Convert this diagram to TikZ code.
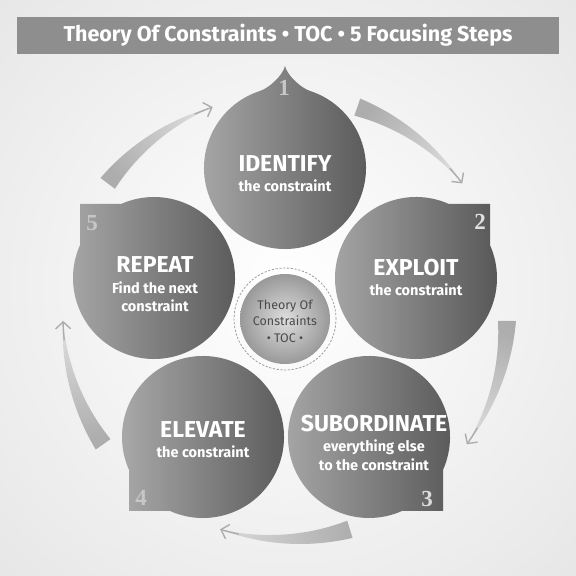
\documentclass[tikz,border=0pt]{standalone}
\usepackage{fontspec}
\setmainfont{Fira Sans}
\newfontfamily\numfont{Liberation Serif}
\usetikzlibrary{positioning,calc,arrows.meta}

\definecolor{barfill}{HTML}{8E8E8E}
\definecolor{steplight}{HTML}{A9A9A9}
\definecolor{stepdark}{HTML}{575757}
\definecolor{bandlight}{HTML}{DADADA}
\definecolor{banddark}{HTML}{ADADAD}
\definecolor{tocink}{HTML}{4A4A4A}

\newcommand\cornerdrop[2]{%
  \shade[stepfill] (#1) ++(#2+21:81) arc[start angle=#2+21, end angle=#2+339, radius=81]
    -- ($(#1)+(#2:104.65)$) -- cycle;}
\newcommand\flowband[2]{%
  \shade[bandfill, shading angle=#2, shift={(hub)}]
    plot[domain=0:1, samples=30] ({#1-34*\x}:{222+9*(1-\x)})
    -- plot[domain=1:0, samples=30] ({#1-34*\x}:{222-9*(1-\x)}) -- cycle;
  \draw[bandtip, shift={(hub)}] ({#1-29}:222) arc[start angle=#1-29, end angle=#1-34, radius=222];}

\begin{document}
\begin{tikzpicture}[x=1pt, y=1pt,
  stepfill/.style={left color=steplight, right color=stepdark},
  bandfill/.style={top color=banddark, bottom color=bandlight},
  bandtip/.style={draw=banddark, line width=1.4pt, -{Straight Barb[length=7pt, width=15pt]}},
  steptitle/.style={text=white, inner sep=0pt, font=\fontsize{23}{25}\selectfont\bfseries},
  stepsub/.style={text=white, inner sep=0pt, align=center, font=\fontsize{14.5}{18.5}\selectfont\bfseries},
  stepnum/.style={inner sep=0pt, font=\fontsize{23}{24}\selectfont\numfont\bfseries},
  toctext/.style={text=tocink, align=center, font=\fontsize{12.5}{16.5}\selectfont}]

\useasboundingbox (0,0) rectangle (576,576);
\begin{scope}
  \clip (0,0) rectangle (576,576);
  \shade[inner color=white, outer color=black!13] (288,290) circle (560);
\end{scope}

\node[fill=barfill, minimum width=542pt, minimum height=37pt, text=white,
      font=\fontsize{21.5}{23}\selectfont\bfseries] (title) at (288,540.5)
  {Theory Of Constraints • TOC • 5 Focusing Steps};

\coordinate (hub) at (285,259);
\coordinate (toc) at (285,257);
\coordinate (identify) at (285,408);
\coordinate (exploit) at (416,298);
\coordinate (subordinate) at (369,139);
\coordinate (elevate) at (203,139);
\coordinate (repeat) at (154,298);

\flowband{71}{54}
\flowband{-1}{-18}
\flowband{-73}{-90}
\flowband{-145}{-162}
\flowband{143}{126}

\shade[stepfill] (identify) ++(0,102) .. controls +(-2,-9) and +(9.5,3.1) .. ++(-25.03,-24.96)
  arc[start angle=108, end angle=432, radius=81]
  .. controls +(-9.5,3.1) and +(2,-9) .. ++(-25.03,24.96) -- cycle;
\cornerdrop{exploit}{45}
\cornerdrop{subordinate}{315}
\cornerdrop{elevate}{225}
\cornerdrop{repeat}{135}

\draw[black!38, line width=0.8pt, dash pattern=on 2.2pt off 1.6pt] (toc) circle (51);
\shade[inner color=black!13, outer color=black!40] (toc) circle (45);
\node[toctext] (toc label) at ($(toc)+(0,-2)$) {Theory Of\\Constraints\\• TOC •};

\node[steptitle] (identify title) at ($(identify)+(0,4)$) {IDENTIFY};
\node[stepsub, below=7pt of identify title] (identify sub) {the constraint};
\node[steptitle] (exploit title) at ($(exploit)+(0,10)$) {EXPLOIT};
\node[stepsub, below=7pt of exploit title] (exploit sub) {the constraint};
\node[steptitle] (subordinate title) at ($(subordinate)+(5,13)$) {SUBORDINATE};
\node[stepsub, below=7pt of subordinate title] (subordinate sub) {everything else\\to the constraint};
\node[steptitle] (elevate title) at ($(elevate)+(0,7)$) {ELEVATE};
\node[stepsub, below=7pt of elevate title] (elevate sub) {the constraint};
\node[steptitle] (repeat title) at ($(repeat)+(1,13)$) {REPEAT};
\node[stepsub, below=8pt of repeat title] (repeat sub) {Find the next\\constraint};

\node[stepnum, text=black!22] (num1) at (284,488) {1};
\node[stepnum, text=black!12] (num2) at (480,354) {2};
\node[stepnum, text=black!14] (num3) at (427,77) {3};
\node[stepnum, text=black!22] (num4) at (141,78) {4};
\node[stepnum, text=black!22] (num5) at (92,353) {5};
\end{tikzpicture}
\end{document}
